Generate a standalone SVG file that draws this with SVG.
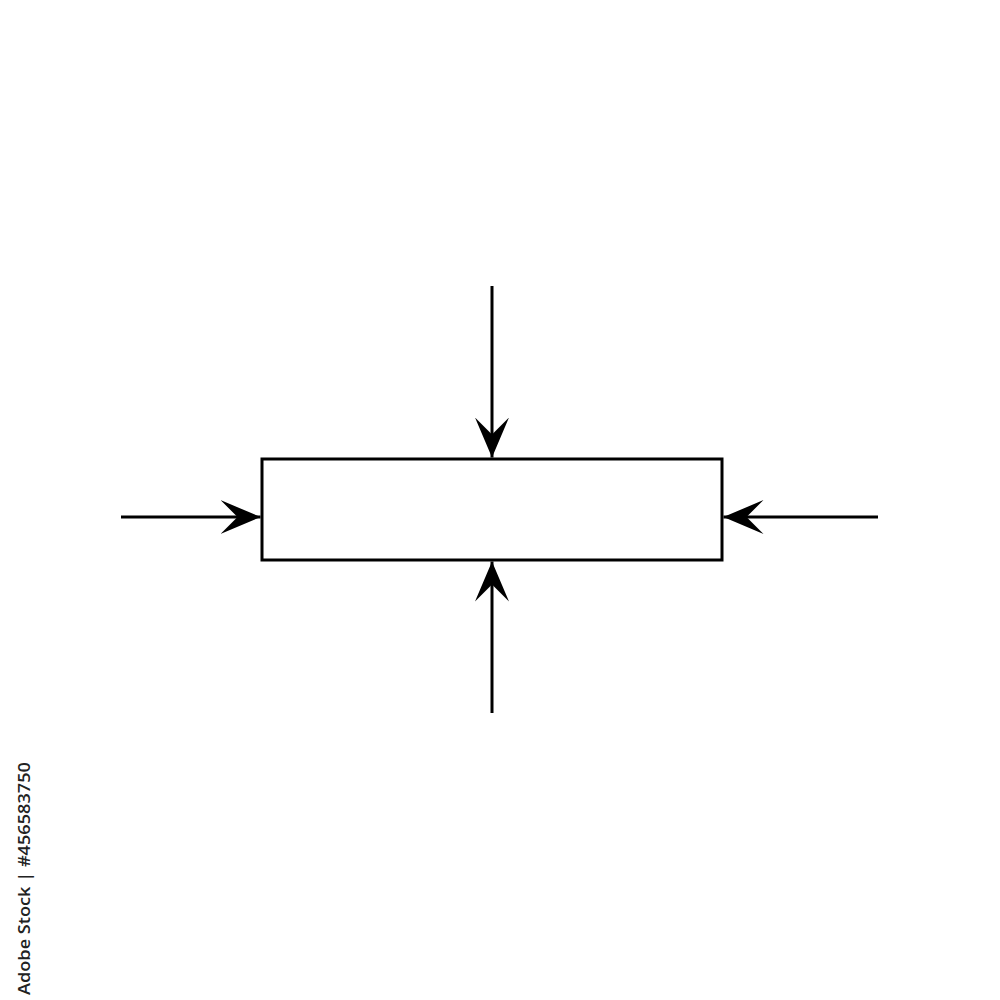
<svg xmlns="http://www.w3.org/2000/svg" width="1000" height="1000" viewBox="0 0 1000 1000">
<style>
.box{fill:#fff;stroke:#000;stroke-width:3}
.con{stroke:#000;stroke-width:3;fill:none}
.wm{font-family:"Open Sans","Liberation Sans",sans-serif;font-size:17px;font-weight:600;fill:#222}
</style>
<defs>
<marker id="ah" viewBox="0 0 40 34" refX="40" refY="17" markerWidth="40" markerHeight="34" markerUnits="userSpaceOnUse" orient="auto">
<path d="M0,0 L40,17 L0,34 L17,17 Z" fill="#000"/>
</marker>
</defs>
<rect width="1000" height="1000" fill="#fff"/>
<g id="node-box">
<rect class="box" x="262" y="459" width="460" height="101"/>
</g>
<g id="connectors">
<line class="con" x1="492" y1="286" x2="492" y2="457.5" marker-end="url(#ah)"/>
<line class="con" x1="492" y1="713" x2="492" y2="561.5" marker-end="url(#ah)"/>
<line class="con" x1="121" y1="517" x2="260.5" y2="517" marker-end="url(#ah)"/>
<line class="con" x1="878" y1="517" x2="723.5" y2="517" marker-end="url(#ah)"/>
</g>
<text class="wm" transform="translate(30,995) rotate(-90)" textLength="233" lengthAdjust="spacingAndGlyphs">Adobe Stock | #456583750</text>
</svg>
